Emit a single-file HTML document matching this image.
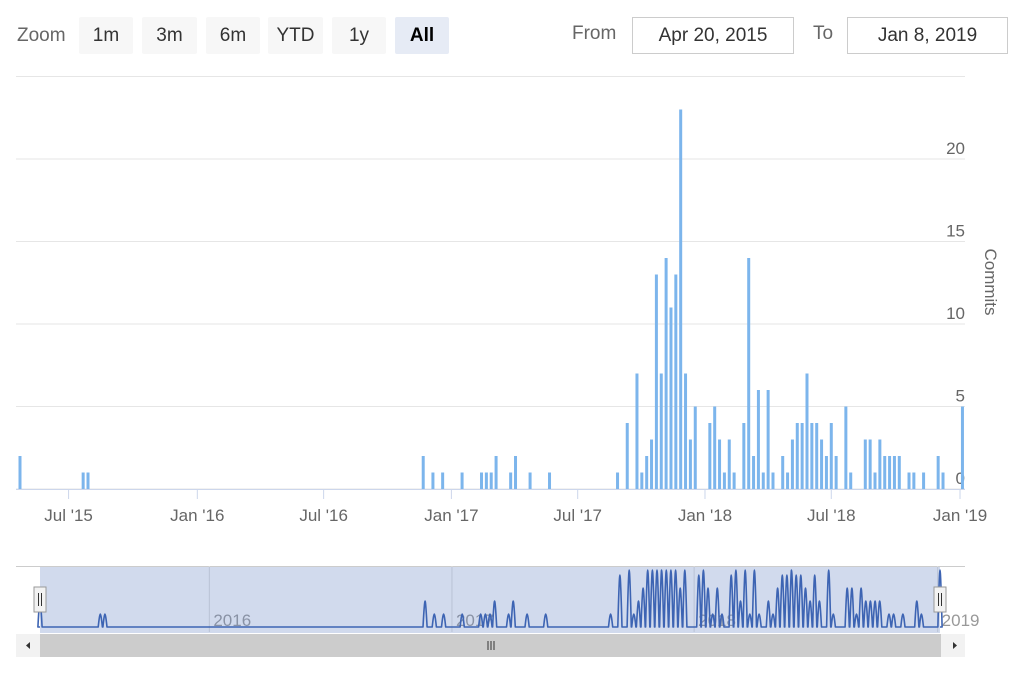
<!DOCTYPE html>
<html><head><meta charset="utf-8">
<style>
body{margin:0;width:1024px;height:683px;background:#fff;font-family:"Liberation Sans","DejaVu Sans",sans-serif;overflow:hidden}
.btn{position:absolute;top:17px;height:37px;background:#f7f7f7;border-radius:2px;font-size:19px;color:#333;text-align:center;line-height:37px}
.lbl{position:absolute;top:23px;font-size:19px;color:#666}
.inp{position:absolute;top:17px;height:35px;border:1px solid #ccc;font-size:19px;color:#333;text-align:center;line-height:35px}
</style></head><body>
<div class="lbl" style="left:17px;top:25px">Zoom</div>
<div class="btn" style="left:79px;width:54px">1m</div>
<div class="btn" style="left:142px;width:55px">3m</div>
<div class="btn" style="left:206px;width:54px">6m</div>
<div class="btn" style="left:268px;width:55px">YTD</div>
<div class="btn" style="left:332px;width:54px">1y</div>
<div class="btn" style="left:395px;width:54px;background:#e6ebf5;font-weight:bold;color:#000">All</div>
<div class="lbl" style="left:572px">From</div>
<div class="inp" style="left:632px;width:160px">Apr 20, 2015</div>
<div class="lbl" style="left:813px">To</div>
<div class="inp" style="left:847px;width:159px">Jan 8, 2019</div>
<svg id="c" width="1024" height="683" style="position:absolute;left:0;top:0"></svg>
<script>
const weeks=[0,13,14,83,85,87,91,95,96,97,98,101,102,105,109,123,125,127,128,129,130,131,132,133,134,135,136,137,138,139,142,143,144,145,146,147,149,150,151,152,153,154,155,157,158,159,160,161,162,163,164,165,166,167,168,170,171,174,175,176,177,178,179,180,181,183,184,186,189,190,194];
const commits=[2,1,1,2,1,1,1,1,1,1,2,1,2,1,1,1,4,7,1,2,3,13,7,14,11,13,23,7,3,5,4,5,3,1,3,1,4,14,2,6,1,6,1,2,1,3,4,4,7,4,4,3,2,4,2,5,1,3,3,1,3,2,2,2,2,1,1,1,2,1,5];
const yTicks=[0,5,10,15,20];
const xTickLabels=["Jul '15","Jan '16","Jul '16","Jan '17","Jul '17","Jan '18","Jul '18","Jan '19"];
const xTickWeeks=[10,36.5,62.5,88.8,114.8,141,167,193.5];
const navLabels=["2016","2017","2018","2019"];
const navLabelWeeks=[36.5,88.8,141,193.5];
const NS='http://www.w3.org/2000/svg',svg=document.getElementById('c');
function mk(t,a,txt){const e=document.createElementNS(NS,t);for(const k in a)e.setAttribute(k,a[k]);if(txt!=null)e.textContent=txt;svg.appendChild(e);return e;}
const x=w=>20+w*4.858, y=v=>489-v*16.5;
const nx=w=>40+w*(900/194), ny=v=>627-Math.min(v*13,57);
[0,5,10,15,20,25].forEach(v=>{let g=mk('line',{x1:16,x2:965,y1:y(v),y2:y(v),stroke:'#e6e6e6'});});
yTicks.forEach(v=>{let t=mk('text',{x:965,y:y(v)-5,'text-anchor':'end','font-size':17,fill:'#666'},v);});
let yt=mk('text',{x:985,y:282,'font-size':17,fill:'#666',transform:'rotate(90 985 282)','text-anchor':'middle'},'Commits');

mk('line',{x1:16,x2:965,y1:489.5,y2:489.5,stroke:'#ccd6eb'});
xTickWeeks.forEach((w,i)=>{mk('line',{x1:x(w),x2:x(w),y1:489,y2:499,stroke:'#ccd6eb'});let t=mk('text',{x:x(w),y:521,'text-anchor':'middle','font-size':17,fill:'#666'},xTickLabels[i]);});
weeks.forEach((w,i)=>{let b=mk('rect',{x:x(w)-1.5,y:y(commits[i]),width:3,height:commits[i]*16.5,fill:'#7cb5ec'});});
mk('line',{x1:16,x2:965,y1:566.5,y2:566.5,stroke:'#ccc'});
navLabelWeeks.forEach((w,i)=>{mk('line',{x1:nx(w),x2:nx(w),y1:566,y2:632,stroke:'#ddd'});let t=mk('text',{x:nx(w)+4,y:626,'font-size':17,fill:'#999'},navLabels[i]);});
let sel=mk('rect',{x:40,y:567,width:900,height:66,fill:'rgba(102,133,194,0.3)'});

let d='M'+nx(0)+','+ny(0);
weeks.forEach((w,i)=>{const v=commits[i];d+=' L'+nx(w-0.45).toFixed(1)+','+ny(0)+' Q'+nx(w-0.15).toFixed(1)+','+ny(v).toFixed(1)+' '+nx(w).toFixed(1)+','+ny(v).toFixed(1)+' Q'+nx(w+0.15).toFixed(1)+','+ny(v).toFixed(1)+' '+nx(w+0.45).toFixed(1)+','+ny(0);});
d+=' L'+nx(194)+','+ny(0);
let nl=mk('path',{d:d,fill:'none',stroke:'#3d64b3','stroke-width':1.6,'stroke-linejoin':'round'});

[40,940].forEach((hx,i)=>{let h=mk('rect',{x:hx-6,y:587,width:12,height:25,fill:'#f2f2f2',stroke:'#999'});mk('line',{x1:hx-1.5,x2:hx-1.5,y1:593,y2:606,stroke:'#333'});mk('line',{x1:hx+1.5,x2:hx+1.5,y1:593,y2:606,stroke:'#333'});});
let tr=mk('rect',{x:16,y:634,width:949,height:23,fill:'#f2f2f2'});
let th=mk('rect',{x:40,y:634,width:901,height:23,fill:'#cccccc'});
[488,491,494].forEach(lx=>mk('line',{x1:lx,x2:lx,y1:641,y2:650,stroke:'#333'}));
let la=mk('path',{d:'M30 642 L26 645.5 L30 649 Z',fill:'#333'});
let ra=mk('path',{d:'M953 642 L957 645.5 L953 649 Z',fill:'#333'});
</script>
</body></html>
